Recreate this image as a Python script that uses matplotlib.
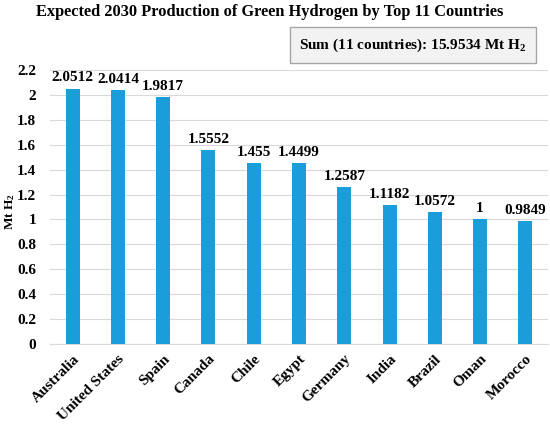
import matplotlib
matplotlib.use("Agg")
import matplotlib.pyplot as plt

countries = ["Australia", "United States", "Spain", "Canada", "Chile", "Egypt",
             "Germany", "India", "Brazil", "Oman", "Morocco"]
values = [2.0512, 2.0414, 1.9817, 1.5552, 1.455, 1.4499, 1.2587, 1.1182, 1.0572, 1, 0.9849]
value_labels = ["2.0512", "2.0414", "1.9817", "1.5552", "1.455", "1.4499",
                "1.2587", "1.1182", "1.0572", "1", "0.9849"]
yticks = [0, 0.2, 0.4, 0.6, 0.8, 1, 1.2, 1.4, 1.6, 1.8, 2, 2.2]
ytick_labels = ["0", "0.2", "0.4", "0.6", "0.8", "1", "1.2", "1.4", "1.6", "1.8", "2", "2.2"]

plt.rcParams['font.family'] = ['Liberation Serif', 'DejaVu Serif']
plt.rcParams['font.weight'] = 'bold'
plt.rcParams['mathtext.fontset'] = 'custom'
plt.rcParams['mathtext.rm'] = 'Liberation Serif:bold'
plt.rcParams['mathtext.bf'] = 'Liberation Serif:bold'
plt.rcParams['mathtext.default'] = 'rm'

fig = plt.figure(figsize=(5.5, 4.26), dpi=100)
ax = fig.add_axes([50/550, 1 - 344/426, 498/550, (344 - 70)/426])

x = list(range(len(countries)))
ax.bar(x, values, width=0.31, color="#1b9dd9", zorder=3)
for xi, v, lab in zip(x, values, value_labels):
    ax.annotate(lab, (xi, v), xytext=(0, 3), textcoords="offset points",
                ha="center", va="bottom", fontsize=11, fontweight="bold")

ax.set_xlim(-0.5, len(countries) - 0.5)
ax.set_ylim(0, 2.2)
ax.set_yticks(yticks)
ax.set_yticklabels(ytick_labels, fontsize=11, fontweight="bold")
ax.set_xticks(x)
ax.set_xticklabels(countries, rotation=45, ha="right", rotation_mode="anchor",
                   fontsize=11, fontweight="bold")
ax.tick_params(axis="y", length=0, pad=10)
ax.tick_params(axis="x", length=0, pad=6)
ax.yaxis.grid(True, color="#d9d9d9", linewidth=0.8, zorder=0)
for s in ["top", "right", "left"]:
    ax.spines[s].set_visible(False)
ax.spines["bottom"].set_color("#d9d9d9")

fig.text(10/550, 1 - 212/426, "Mt H$_2$", rotation=90, ha="center", va="center",
         fontsize=9.5, fontweight="bold")

fig.text(270/550, 1 - 12/426, "Expected 2030 Production of Green Hydrogen by Top 11 Countries",
         ha="center", va="center", fontsize=11.8, fontweight="bold")
fig.text(413/550, 1 - 45/426, "Sum (11 countries): 15.9534 Mt H$_2$",
         ha="center", va="center", fontsize=11, fontweight="bold",
         bbox=dict(boxstyle="square,pad=0.6", facecolor="#f2f2f2", edgecolor="#a6a6a6", linewidth=1))

fig.savefig("out.png", dpi=100)
